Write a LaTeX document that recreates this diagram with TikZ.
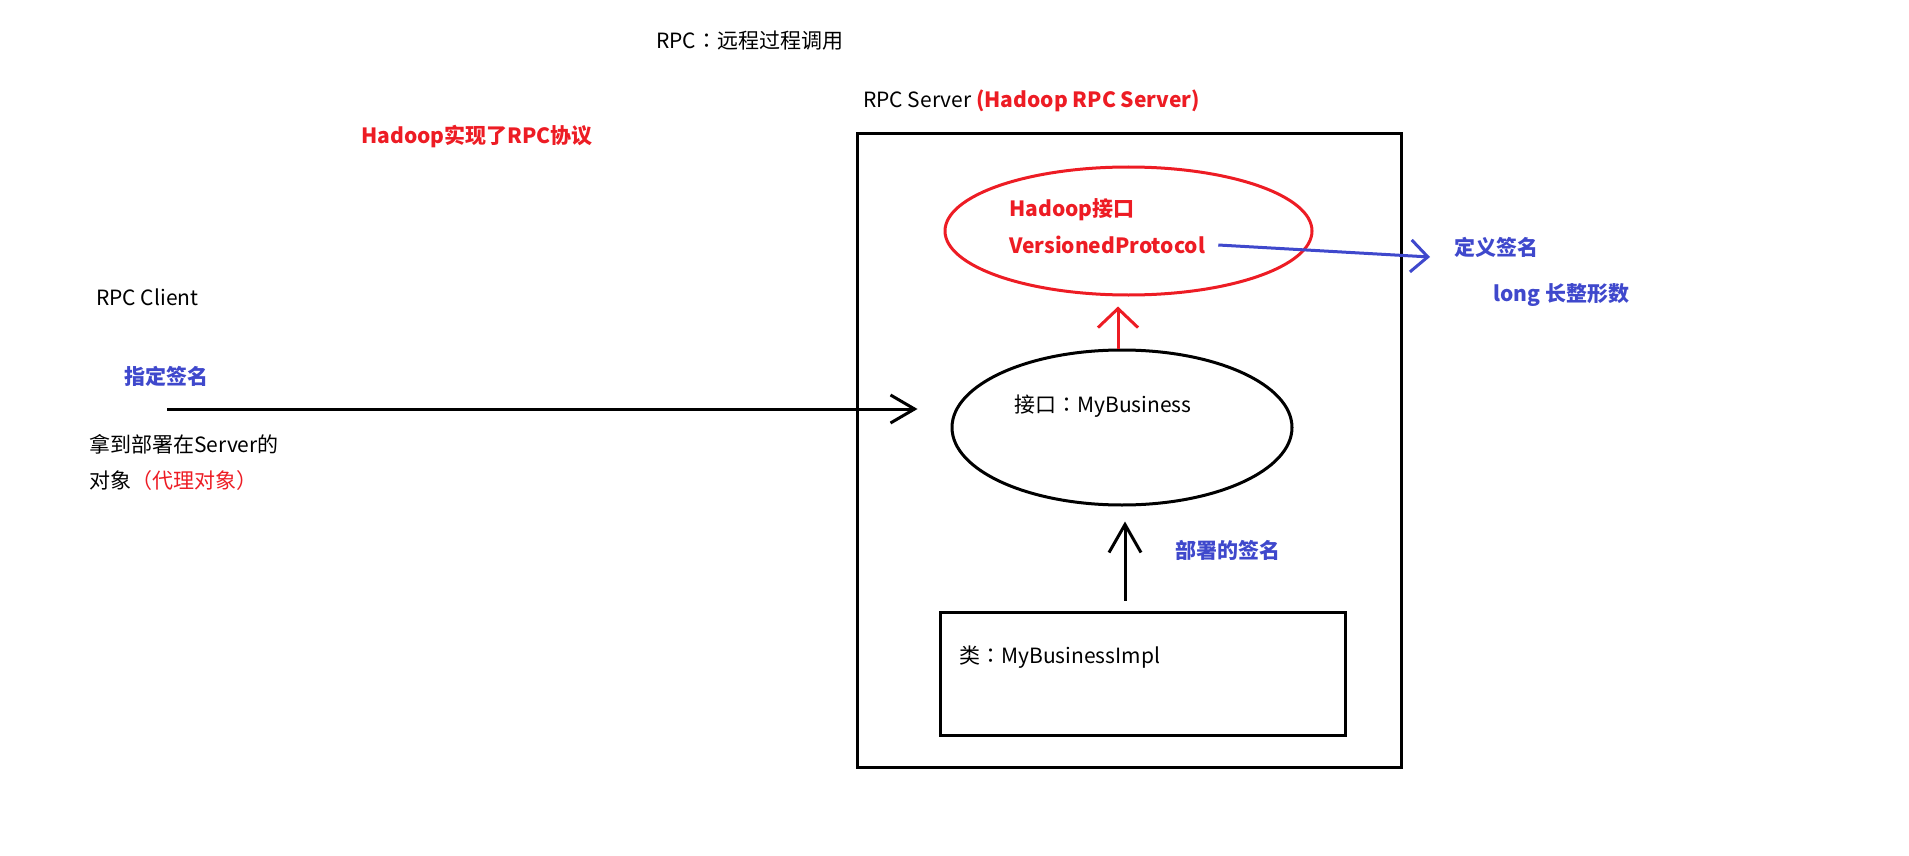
\documentclass[tikz,border=0pt]{standalone}
\usepackage{fontspec}
\setmainfont{Noto Sans CJK SC}
\newfontfamily\tcfont{Noto Sans CJK TC}
\newcommand{\fwcolon}{{\tcfont ：}}
\usetikzlibrary{shapes.geometric,arrows.meta}
\definecolor{pred}{HTML}{ED1C24}
\definecolor{pblue}{HTML}{3F48CC}
\begin{document}
\begin{tikzpicture}[x=1pt,y=-1pt,
  txt/.style={anchor=west,inner sep=0pt,font=\fontsize{21}{25}\selectfont},
  btxt/.style={anchor=west,inner sep=0pt,font=\fontsize{21}{25}\selectfont\bfseries},
  shapebox/.style={draw,line width=3pt,inner sep=0pt,rectangle},
  oval/.style={draw,line width=3pt,inner sep=0pt,ellipse},
  conn/.style={line width=3pt},
]
\useasboundingbox (0,0) rectangle (1909,856);
% shapes
\node[shapebox,minimum width=544pt,minimum height=633pt] (srv) at (1129,450.5) {};
\node[shapebox,minimum width=405pt,minimum height=123pt] (impl) at (1142.5,673.5) {};
\node[oval,minimum width=340pt,minimum height=155pt] (mb) at (1122,427.5) {};
\node[oval,draw=pred,minimum width=367pt,minimum height=128pt] (ver) at (1128.5,231) {};
% texts
\node[txt] (title) at (656,41) {RPC\fwcolon 远程过程调用};
\node[txt] (srvlbl) at (863,101) {RPC Server {\color{pred}\bfseries (Hadoop RPC Server)}};
\node[btxt,text=pred] (impltxt) at (361,137) {Hadoop实现了RPC协议};
\node[btxt,text=pred] (hif) at (1009,210) {Hadoop接口};
\node[btxt,text=pred] (vp) at (1009,245) {VersionedProtocol};
\node[btxt,text=pblue] (defsig) at (1454,247) {定义签名};
\node[btxt,text=pblue] (longt) at (1493,295) {long 长整形数};
\node[txt] (mbt) at (1014,406) {接口\fwcolon MyBusiness};
\node[txt] (client) at (96,297) {RPC Client};
\node[btxt,text=pblue] (spec) at (124,376) {指定签名};
\node[txt] (get1) at (89,444) {拿到部署在Server的};
\node[txt] (get2) at (89,481) {对象{\color{pred}（代理对象）}};
\node[btxt,text=pblue] (depl) at (1175,550) {部署的签名};
\node[txt] (implt) at (959,657) {类\fwcolon MyBusinessImpl};
% connectors
\coordinate (cs) at (167,409);
\coordinate (dt) at (1430,257);
\draw[conn,-{Straight Barb[length=24pt,width=28pt]}] (cs) -- ([xshift=-33pt]cs -| mb.west);
\draw[conn,draw=pred,-{Straight Barb[length=19pt,width=40pt]},shorten >=10pt] ([xshift=-4pt]mb.north) -- ([xshift=-10.5pt]ver.south);
\draw[conn,-{Straight Barb[length=28pt,width=32pt]},shorten <=10pt,shorten >=15pt] ([xshift=-17.5pt]impl.north) -- ([xshift=3pt]mb.south);
\draw[conn,draw=pblue,-{Straight Barb[length=17pt,width=32pt]}] ([xshift=13pt]vp.east) -- (dt);
\end{tikzpicture}
\end{document}
